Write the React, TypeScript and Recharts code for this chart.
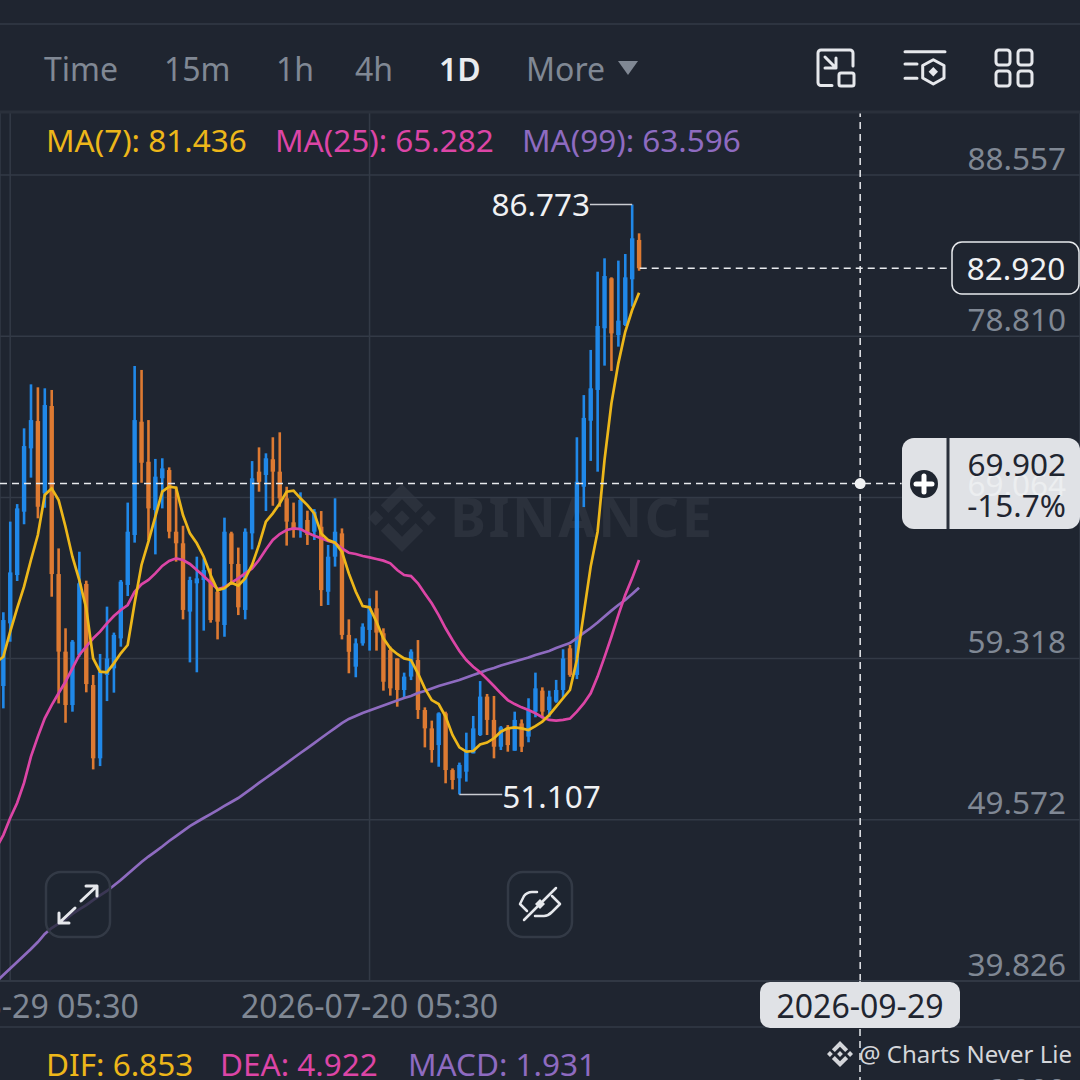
import { Bar, CartesianGrid, ComposedChart, Line, ReferenceDot, ReferenceLine, XAxis, YAxis } from "recharts";

const FONT = "'Noto Sans', sans-serif";
const BG = "#1f2530";
const GRID = "#333a46";
const GREY = "#808894";
const LIGHT = "#e0e2e6";
const DARK = "#1f2530";
const BLUE = "#2088e8";
const ORANGE = "#dd7a32";
const YELLOW = "#edb71a";
const PINK = "#dc45a6";
const PURPLE = "#8e6bc0";

const highs = [
  62.12, 67.6, 68.66, 73.24, 75.9, 75.72, 75.66, 75.56, 65.98, 61.15,
  60.44, 65.78, 64.03, 58.33, 59.6, 62.46, 60.89, 64.07, 68.75, 77.01,
  76.77, 73.74, 71.39, 71.43, 70.88, 69.71, 67.35, 64.27, 65.48, 65.38,
  64.77, 63.46, 67.84, 66.99, 66.03, 67.19, 71.26, 72.09, 71.73, 72.7,
  73.0, 69.71, 68.75, 69.37, 68.26, 68.36, 68.24, 66.19, 69.01, 67.19,
  61.69, 60.54, 61.45, 62.96, 63.43, 61.15, 60.04, 59.33, 58.47, 59.88,
  60.44, 56.37, 55.57, 56.07, 56.11, 52.68, 53.03, 54.84, 55.85, 57.96,
  57.18, 57.06, 55.24, 55.3, 56.11, 55.64, 56.92, 58.47, 57.58, 57.38,
  58.03, 59.88, 60.14, 72.7, 75.25, 77.98, 82.71, 83.52, 82.37, 83.38,
  83.78, 86.773, 85.03,
];
const bodyTops = [
  61.65, 64.53, 68.4, 72.17, 73.74, 73.68, 74.65, 74.59, 64.43, 59.74,
  60.34, 63.87, 63.83, 57.72, 58.53, 59.33, 60.75, 63.97, 66.99, 73.74,
  73.64, 71.22, 70.32, 70.82, 70.72, 66.99, 66.29, 64.07, 64.17, 64.67,
  64.07, 63.36, 66.99, 66.89, 65.04, 66.99, 70.22, 70.62, 71.43, 71.37,
  70.62, 69.01, 67.56, 68.91, 67.7, 68.2, 67.29, 65.48, 66.99, 66.89,
  60.75, 60.24, 61.25, 62.36, 62.36, 60.85, 59.84, 59.33, 58.23, 59.74,
  59.23, 56.21, 55.1, 56.01, 56.01, 52.58, 52.89, 53.69, 55.1, 57.02,
  57.02, 55.61, 55.16, 55.16, 55.61, 55.4, 56.21, 57.52, 57.38, 57.02,
  57.42, 59.33, 59.94, 70.01, 73.87, 75.66, 79.43, 82.45, 82.31, 79.75,
  82.37, 84.73, 84.63,
];
const bodyBottoms = [
  57.66, 61.45, 64.37, 68.2, 72.03, 68.5, 69.31, 64.43, 59.74, 56.51,
  56.51, 59.54, 57.78, 53.29, 53.29, 58.33, 58.73, 60.54, 63.77, 66.79,
  71.16, 68.4, 68.3, 70.22, 66.99, 66.29, 62.26, 62.16, 63.87, 64.07,
  61.65, 61.55, 61.35, 65.04, 62.42, 62.26, 66.89, 70.01, 70.42, 70.62,
  69.01, 67.6, 67.09, 67.09, 66.79, 66.99, 63.46, 63.36, 65.48, 60.75,
  59.73, 58.83, 60.24, 61.05, 60.89, 57.92, 57.52, 57.42, 57.42, 58.23,
  56.21, 55.1, 53.79, 54.09, 52.58, 51.98, 52.08, 52.48, 53.59, 54.7,
  55.61, 53.99, 53.99, 54.09, 53.75, 53.99, 54.6, 56.11, 56.11, 56.21,
  56.72, 57.42, 58.33, 58.33, 69.71, 73.7, 75.56, 79.29, 78.98, 78.88,
  79.49, 82.25, 82.92,
];
const lows = [
  56.31, 60.34, 64.01, 67.44, 70.26, 67.8, 68.44, 63.06, 56.61, 55.44,
  56.11, 59.43, 57.28, 52.62, 52.82, 56.75, 57.26, 60.04, 63.1, 66.33,
  69.95, 66.49, 65.62, 68.4, 66.59, 65.18, 61.69, 59.09, 58.49, 61.01,
  61.49, 60.48, 60.64, 63.77, 61.95, 61.69, 65.92, 69.41, 68.24, 68.56,
  68.5, 66.15, 66.63, 66.63, 66.19, 66.49, 62.5, 62.56, 64.88, 60.48,
  58.43, 58.19, 60.1, 59.8, 59.8, 57.38, 57.08, 56.41, 56.92, 58.02,
  55.67, 53.95, 53.03, 52.78, 51.78, 51.41, 51.107, 51.88, 53.59, 54.64,
  54.7, 53.29, 53.79, 53.69, 53.75, 53.67, 54.26, 55.77, 55.71, 55.77,
  56.65, 56.92, 58.22, 58.08, 68.48, 71.27, 70.62, 77.03, 76.71, 78.18,
  79.43, 80.6, 82.77,
];
// candles that closed lower, drawn orange
const fallingDays = [
  5, 7, 8, 9, 12, 13, 20, 21, 24, 25, 26, 30, 31, 33, 34, 37, 39, 40, 41, 42, 44, 46,
  49, 50, 54, 55, 56, 57, 60, 61, 62, 64, 65, 70, 71, 73, 75, 78, 82, 88, 92,
];
const ma7 = [
  59.43, 60.95, 62.36, 63.67, 65.28, 66.79, 69.21, 69.61, 68.91, 67.29,
  65.48, 64.07, 62.36, 59.33, 58.53, 58.49, 59.03, 59.64, 60.14, 62.66,
  64.98, 66.39, 67.9, 69.41, 69.71, 69.65, 68.0, 66.89, 66.29, 65.48,
  64.37, 63.46, 63.57, 63.91, 63.73, 64.17, 64.98, 66.19, 67.6, 68.1,
  68.7, 69.41, 69.47, 69.01, 68.6, 68.1, 66.89, 66.49, 66.33, 65.78,
  64.47, 63.37, 62.5, 62.42, 61.55, 60.54, 59.94, 59.6, 59.33, 59.23,
  58.43, 57.52, 56.81, 56.57, 55.81, 54.7, 53.95, 53.69, 53.73, 54.13,
  54.24, 54.5, 54.9, 55.1, 55.16, 55.1, 55.0, 55.24, 55.51, 55.91,
  56.41, 56.92, 57.42, 59.23, 62.05, 64.88, 66.99, 71.32, 74.75, 77.17,
  79.08, 80.39, 81.436,
];
const ma25 = [
  48.65, 49.68, 50.59, 51.8, 53.39, 54.6, 55.71, 56.51, 57.22, 57.92,
  58.73, 59.54, 60.04, 60.54, 60.95, 61.45, 61.89, 62.26, 62.56, 63.36,
  63.81, 64.07, 64.47, 64.92, 65.22, 65.38, 65.28, 65.04, 64.67, 64.31,
  63.91, 63.53, 63.63, 63.91, 64.17, 64.47, 64.77, 65.28, 65.92, 66.49,
  66.85, 67.09, 67.19, 67.15, 66.93, 66.75, 66.59, 66.43, 66.33, 65.98,
  65.72, 65.64, 65.52, 65.44, 65.34, 65.24, 65.08, 64.67, 64.37, 64.31,
  63.87, 63.26, 62.66, 61.95, 61.15, 60.44, 59.78, 59.23, 58.83, 58.49,
  58.08, 57.66, 57.22, 56.81, 56.57, 56.37, 56.21, 56.01, 55.77, 55.61,
  55.57, 55.61, 55.69, 56.11, 56.61, 57.22, 58.23, 59.41, 60.64, 61.95,
  63.16, 64.17, 65.282,
];
const ma99 = [
  40.19, 40.58, 40.97, 41.37, 41.76, 42.18, 42.67, 43.03, 43.3, 43.57,
  43.88, 44.15, 44.42, 44.72, 45.0, 45.27, 45.6, 45.93, 46.3, 46.66,
  47.02, 47.35, 47.65, 47.96, 48.29, 48.59, 48.89, 49.19, 49.44, 49.68,
  49.92, 50.16, 50.41, 50.65, 50.89, 51.19, 51.49, 51.8, 52.1, 52.4,
  52.7, 53.0, 53.31, 53.61, 53.91, 54.21, 54.52, 54.82, 55.12, 55.42,
  55.67, 55.85, 56.03, 56.18, 56.33, 56.48, 56.64, 56.79, 56.94, 57.06,
  57.24, 57.36, 57.51, 57.66, 57.78, 57.9, 58.02, 58.18, 58.33, 58.47,
  58.63, 58.75, 58.9, 59.02, 59.14, 59.26, 59.38, 59.54, 59.66, 59.78,
  59.96, 60.11, 60.26, 60.56, 60.87, 61.17, 61.5, 61.86, 62.22, 62.56,
  62.86, 63.22, 63.596,
];
// line values one day before the first visible candle, off the left edge
const leadMa = { ma7: 59.1, ma25: 47.87, ma99: 39.8 };

const priceTicks = [88.557, 78.81, 69.064, 59.318, 49.572, 39.826];
const dateTicks = [1, 53];
const dateLabels = ["2026-05-29 05:30", "2026-07-20 05:30"];
const periods = [
  { label: "Time", x: 44, active: false },
  { label: "15m", x: 164, active: false },
  { label: "1h", x: 276, active: false },
  { label: "4h", x: 355, active: false },
  { label: "1D", x: 439, active: true },
  { label: "More", x: 526, active: false },
];
const maLegend = [
  { label: "MA(7): 81.436", x: 46, color: YELLOW },
  { label: "MA(25): 65.282", x: 275, color: PINK },
  { label: "MA(99): 63.596", x: 522, color: PURPLE },
];
const macdLegend = [
  { label: "DIF: 6.853", x: 46, color: YELLOW },
  { label: "DEA: 4.922", x: 220, color: PINK },
  { label: "MACD: 1.931", x: 408, color: PURPLE },
];

const rows = [
  { i: -1, range: null, top: null, bottom: null, falling: false, ...leadMa },
  ...highs.map((h, i) => ({
    i,
    range: [lows[i], h],
    top: bodyTops[i],
    bottom: bodyBottoms[i],
    falling: fallingDays.includes(i),
    ma7: ma7[i],
    ma25: ma25[i],
    ma99: ma99[i],
  })),
];

function Candle(props: any) {
  const { x, y, width, height, payload } = props;
  if (!payload.range) return null;
  const [lo, hi] = payload.range;
  const perUnit = height / (hi - lo);
  const yTop = y + (hi - payload.top) * perUnit;
  const yBottom = y + (hi - payload.bottom) * perUnit;
  const cx = x + width / 2;
  const fill = payload.falling ? ORANGE : BLUE;
  return (
    <g>
      <rect x={cx - 1.3} y={y} width={2.6} height={height} fill={fill} />
      <rect x={cx - 2.2} y={yTop} width={4.4} height={Math.max(yBottom - yTop, 1)} fill={fill} />
    </g>
  );
}

function PriceTick({ y, payload }: any) {
  return (
    <text x={1066} y={y - 18} textAnchor="end" dominantBaseline="central" fontFamily={FONT} fontSize={31.5} fill={GREY}>
      {payload.value.toFixed(3)}
    </text>
  );
}

function DateTick({ x, y, payload }: any) {
  return (
    <text x={x} y={y + 16} textAnchor="middle" dominantBaseline="central" fontFamily={FONT} fontSize={32} fill={GREY}>
      {dateLabels[dateTicks.indexOf(payload.value)]}
    </text>
  );
}

function BinanceMark({ x, y, size, fill }: { x: number; y: number; size: number; fill: string }) {
  return (
    <path
      transform={`translate(${x - size / 2} ${y - size / 2}) scale(${size / 32})`}
      fill={fill}
      d="M16 0 L6 10 l3.6 3.6 L16 7.2 l6.4 6.4 L26 10z M16 32 L6 22 l3.6 -3.6 L16 24.8 l6.4 -6.4 L26 22z M0 16 l3.6 -3.6 L7.2 16 3.6 19.6z M24.8 16 l3.6 -3.6 L32 16 l-3.6 3.6z M16 12.4 L19.6 16 16 19.6 12.4 16z"
    />
  );
}

function Backdrop() {
  return (
    <svg width={1080} height={1080} style={{ position: "absolute", left: 0, top: 0 }}>
      <rect width={1080} height={1080} fill={BG} />
      <BinanceMark x={402} y={518} size={68} fill="#2b313c" />
      <text x={450} y={537} fontFamily={FONT} fontWeight={700} fontSize={54} letterSpacing={2.5} fill="#2b313c">
        BINANCE
      </text>
    </svg>
  );
}

function Overlay() {
  const icon = { fill: "none", stroke: "#e6e8ec", strokeWidth: 3, strokeLinecap: "round" as const, strokeLinejoin: "round" as const };
  return (
    <svg width={1080} height={1080} style={{ position: "absolute", left: 0, top: 0 }} fontFamily={FONT}>
      <line x1={0} x2={1080} y1={24} y2={24} stroke={GRID} strokeWidth={1.5} />
      <line x1={0} x2={1080} y1={112} y2={112} stroke="#2a303b" strokeWidth={3} />
      <line x1={0} x2={1080} y1={1027} y2={1027} stroke={GRID} strokeWidth={1.5} />
      <line x1={860} x2={860} y1={981} y2={1080} stroke="#e8eaed" strokeWidth={1.5} strokeDasharray="7 5" />

      {periods.map((p) => (
        <text key={p.label} x={p.x} y={68.5} dominantBaseline="central" fontSize={32} fontWeight={p.active ? 600 : 400} fill={p.active ? "#eaecef" : GREY}>
          {p.label}
        </text>
      ))}
      <path d="M618 61 H638 L628 75z" fill={GREY} />

      <g {...icon}>
        <path d="M832 85.5 H821 a3 3 0 0 1 -3 -3 V53 a3 3 0 0 1 3 -3 H850 a3 3 0 0 1 3 3 V66" />
        <rect x={839} y={73} width={15} height={13} rx={2} />
        <path d="M825 57 L836 68 M825 68 H836 V58" />
        <path d="M905 51.7 H945 M905 64 H917 M905 78.3 H917" />
        <path d="M933.3 59.7 L944 65.5 V78 L933.3 84 L922.7 78 V65.5z" />
        <rect x={996} y={50} width={14} height={15} rx={3} />
        <rect x={1018} y={50} width={14} height={15} rx={3} />
        <rect x={996} y={71} width={14} height={15} rx={3} />
        <rect x={1018} y={71} width={14} height={15} rx={3} />
      </g>
      <path d="M933.3 67 L938 71.7 L933.3 76.4 L928.6 71.7z" fill="#e6e8ec" />

      {maLegend.map((m) => (
        <text key={m.label} x={m.x} y={139} dominantBaseline="central" fontSize={31.5} fill={m.color}>
          {m.label}
        </text>
      ))}
      {macdLegend.map((m) => (
        <text key={m.label} x={m.x} y={1063} dominantBaseline="central" fontSize={31.5} fill={m.color}>
          {m.label}
        </text>
      ))}

      <rect x={952} y={242} width={127} height={52} rx={10} fill={BG} stroke="#e8eaed" strokeWidth={1.5} />
      <text x={1016} y={267} textAnchor="middle" dominantBaseline="central" fontSize={31.5} fill="#f0f1f3">
        82.920
      </text>

      <rect x={902} y={438} width={178} height={91} rx={12} fill={LIGHT} />
      <rect x={946.5} y={438} width={3} height={91} fill="#2a303b" />
      <text x={1066} y={483} textAnchor="end" dominantBaseline="central" fontSize={31.5} fill="#eceef0">
        69.064
      </text>
      <circle cx={924} cy={484} r={14} fill={DARK} />
      <path d="M924 476 V492 M916 484 H932" stroke="#fff" strokeWidth={5} strokeLinecap="round" />
      <text x={1066} y={463} textAnchor="end" dominantBaseline="central" fontSize={31.5} fill={DARK}>
        69.902
      </text>
      <text x={1066} y={504} textAnchor="end" dominantBaseline="central" fontSize={31.5} fill={DARK}>
        -15.7%
      </text>

      <rect x={760} y={982} width={200} height={46} rx={10} fill={LIGHT} />
      <text x={860} y={1005} textAnchor="middle" dominantBaseline="central" fontSize={32} fill={DARK}>
        2026-09-29
      </text>

      <rect x={46} y={872} width={64} height={65} rx={15} fill={BG} fillOpacity={0.75} stroke={GRID} strokeWidth={2.5} />
      <g {...icon}>
        <path d="M81 901 L97 886 M86 886 H97 V896 M75 908 L59 923 M59 913 V923 H69" />
      </g>
      <rect x={508} y={872} width={64} height={65} rx={15} fill={BG} fillOpacity={0.75} stroke={GRID} strokeWidth={2.5} />
      <g {...icon} strokeWidth={2.5}>
        <path d="M537 892 H532 Q527 892 524 896 L520 904 L527 911 M552 896 L560 904 L552 912 Q548 916 544 916 H535 M556 888 L524 920" />
      </g>
      <path d="M540 899 L545 904 L540 909 L535 904z" fill="#e6e8ec" />

      <BinanceMark x={840} y={1054} size={26} fill="#d4d6da" />
      <text x={1072} y={1053} textAnchor="end" dominantBaseline="central" fontSize={24} fill="#d4d6da">
        @ Charts Never Lie
      </text>
      <text x={1066} y={1088} textAnchor="end" dominantBaseline="central" fontSize={31.5} fill={GREY}>
        6.000
      </text>
    </svg>
  );
}

export default function App() {
  return (
    <div style={{ position: "fixed", left: 0, top: 0, width: 1080, height: 1080, overflow: "hidden" }}>
      <Backdrop />
      <div style={{ position: "absolute", left: 0, top: 0 }}>
        <ComposedChart width={1080} height={1080} data={rows} margin={{ top: 112, right: 0, bottom: 53, left: 0 }}>
          <CartesianGrid stroke={GRID} strokeWidth={1.5} />
          <XAxis
            dataKey="i"
            type="number"
            scale="linear"
            domain={[-0.4776, 155.81]}
            allowDataOverflow
            ticks={dateTicks}
            interval={0}
            height={46}
            axisLine={{ stroke: GRID, strokeWidth: 1.5 }}
            tickLine={false}
            tick={<DateTick />}
          />
          <YAxis
            type="number"
            orientation="right"
            mirror
            width={60}
            domain={[39.826, 92.366]}
            allowDataOverflow
            ticks={priceTicks}
            interval={0}
            axisLine={false}
            tickLine={false}
            tick={<PriceTick />}
          />
          <Bar dataKey="range" barSize={5} shape={<Candle />} isAnimationActive={false} />
          <Line dataKey="ma99" stroke={PURPLE} strokeWidth={2.7} dot={false} isAnimationActive={false} />
          <Line dataKey="ma25" stroke={PINK} strokeWidth={2.7} dot={false} isAnimationActive={false} />
          <Line dataKey="ma7" stroke={YELLOW} strokeWidth={2.7} dot={false} isAnimationActive={false} />
          <ReferenceLine
            ifOverflow="visible"
            segment={[{ x: 92.1, y: 82.92 }, { x: 137, y: 82.92 }]}
            stroke="#e8eaed"
            strokeWidth={1.5}
            strokeDasharray="7 5"
          />
          <ReferenceLine
            ifOverflow="visible"
            segment={[{ x: -0.4776, y: 69.902 }, { x: 130, y: 69.902 }]}
            stroke="#e8eaed"
            strokeWidth={1.5}
            strokeDasharray="7 5"
          />
          <ReferenceLine x={124} stroke="#e8eaed" strokeWidth={1.5} strokeDasharray="7 5" />
          <ReferenceLine ifOverflow="visible" segment={[{ x: 84.9, y: 86.773 }, { x: 91, y: 86.773 }]} stroke="#c9ccd1" strokeWidth={1.5} />
          <ReferenceLine ifOverflow="visible" segment={[{ x: 66, y: 51.107 }, { x: 72.2, y: 51.107 }]} stroke="#c9ccd1" strokeWidth={1.5} />
          <ReferenceDot
            x={84.9}
            y={86.773}
            r={0}
            stroke="none"
            label={{ value: "86.773", position: "left", offset: 0, fill: "#f0f1f3", fontSize: 31.5, fontFamily: FONT }}
          />
          <ReferenceDot
            x={72.2}
            y={51.107}
            r={0}
            stroke="none"
            label={{ value: "51.107", position: "right", offset: 0, dy: 2, fill: "#f0f1f3", fontSize: 31.5, fontFamily: FONT }}
          />
          <ReferenceDot x={124} y={69.902} r={5.5} fill="#f0f1f3" stroke="none" />
        </ComposedChart>
      </div>
      <Overlay />
    </div>
  );
}
